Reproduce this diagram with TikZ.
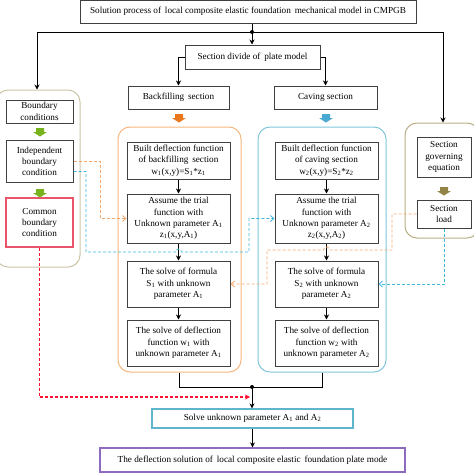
\documentclass[tikz,border=0pt]{standalone}
\usepackage{fontspec}
\setmainfont{Liberation Serif}
\usetikzlibrary{arrows.meta,calc}
\definecolor{boxgray}{HTML}{404040}
\definecolor{lgrpc}{HTML}{CBC4A6}
\definecolor{rgrpc}{HTML}{B9AE86}
\definecolor{ogrpc}{HTML}{F6B77E}
\definecolor{bgrpc}{HTML}{80C6DA}
\definecolor{cbcc}{HTML}{E9546B}
\definecolor{solvec}{HTML}{5EB5CC}
\definecolor{finalc}{HTML}{8E6BBF}
\definecolor{odashc}{HTML}{F4A86E}
\definecolor{bdashc}{HTML}{3DB6DC}
\definecolor{rdashc}{HTML}{FF1030}
\definecolor{greenA}{HTML}{78B31E}
\definecolor{orangeA}{HTML}{E8771F}
\definecolor{blueA}{HTML}{48AAD0}
\definecolor{oliveA}{HTML}{938446}
\newcommand{\blockarr}[2]{\path[fill=#2] (#1) ++(-4,0) -- ++(8,0) -- ++(0,4) -- ++(3,0) -- ++(-7,4.5) -- ++(-7,-4.5) -- ++(3,0) -- cycle;}
\begin{document}
\begin{tikzpicture}[x=1pt,y=-1pt,
  box/.style={draw=boxgray, line width=1pt, fill=white, align=center, inner sep=0pt,
     font=\fontsize{9.2}{11.3}\selectfont},
  cbox/.style={box, line width=1.2pt},
  grp/.style={draw=#1, line width=1pt, rounded corners=12pt, inner sep=0pt},
  conn/.style={draw=black, line width=0.8pt},
  arr/.style={conn, -{Stealth[length=5pt,width=5pt]}},
  odash/.style={draw=odashc, line width=0.8pt, dash pattern=on 3pt off 2pt},
  bdash/.style={draw=bdashc, line width=0.8pt, dash pattern=on 3pt off 2pt},
  rdash/.style={draw=rdashc, line width=1.1pt, dash pattern=on 3pt off 2pt},
  barb/.style={-{Straight Barb[length=3.5pt,width=6pt]}},
]
\useasboundingbox (0,0) rectangle (474,474);

% groups
\node[grp=lgrpc, minimum width=84pt, minimum height=177pt] (lgrp) at (38,178.5) {};
\node[grp=rgrpc, minimum width=74pt, minimum height=115pt] (rgrp) at (442,180.5) {};
\node[grp=ogrpc, minimum width=123pt, minimum height=245pt] (ogrp) at (179.5,249.5) {};
\node[grp=bgrpc, minimum width=128pt, minimum height=245pt] (bgrp) at (322,249.5) {};

% top
\node[box, minimum width=336pt, minimum height=23pt] (top) at (248,11.5) {Solution process of\, local composite elastic foundation\, mechanical model in CMPGB};
\node[box, minimum width=135pt, minimum height=24pt] (divide) at (252.5,57) {Section divide of\, plate model};
\node[box, minimum width=101pt, minimum height=23pt] (back) at (178.5,97.5) {Backfilling\, section};
\node[box, minimum width=103pt, minimum height=23pt] (cave) at (325.5,97.5) {Caving section};

% left group
\node[box, minimum width=67pt, minimum height=23pt] (bc) at (39.5,111.5) {Boundary\\conditions};
\node[box, minimum width=67pt, minimum height=42pt] (ibc) at (39.5,161.5) {Independent\\boundary\\condition};
\node[cbox, draw=cbcc, minimum width=67pt, minimum height=49pt] (cbc) at (39.5,222.5) {Common\\boundary\\condition};

% right group
\node[box, minimum width=54pt, minimum height=40pt] (sge) at (444,157) {Section\\governing\\equation};
\node[box, minimum width=54pt, minimum height=28pt] (sl) at (444,214) {Section\\load};

% left column
\node[box, minimum width=103pt, minimum height=37pt] (L1) at (178.5,160.5) {Built deflection function\\of backfilling\, section\\w\textsubscript{1}(x,y)=S\textsubscript{1}*z\textsubscript{1}};
\node[box, minimum width=103pt, minimum height=49pt] (L2) at (178.5,218.5) {Assume the trial\\function with\\Unknown parameter A\textsubscript{1}\\z\textsubscript{1}(x,y,A\textsubscript{1})};
\node[box, minimum width=103pt, minimum height=46pt] (L3) at (178.5,284) {The solve of formula\\S\textsubscript{1} with unknown\\parameter A\textsubscript{1}};
\node[box, minimum width=103pt, minimum height=46pt] (L4) at (178.5,343) {The solve of deflection\\function w\textsubscript{1} with\\unknown parameter A\textsubscript{1}};

% right column
\node[box, minimum width=103pt, minimum height=37pt] (R1) at (326.5,160.5) {Built deflection function\\of caving section\\w\textsubscript{2}(x,y)=S\textsubscript{2}*z\textsubscript{2}};
\node[box, minimum width=103pt, minimum height=49pt] (R2) at (326.5,218.5) {Assume the trial\\function with\\Unknown parameter A\textsubscript{2}\\z\textsubscript{2}(x,y,A\textsubscript{2})};
\node[box, minimum width=103pt, minimum height=46pt] (R3) at (326.5,284) {The solve of formula\\S\textsubscript{2} with unknown\\parameter A\textsubscript{2}};
\node[box, minimum width=103pt, minimum height=46pt] (R4) at (326.5,343) {The solve of deflection\\function w\textsubscript{2} with\\unknown parameter A\textsubscript{2}};

% bottom
\node[cbox, draw=solvec, minimum width=201pt, minimum height=19pt] (solve) at (252.5,418.5) {Solve unknown parameter A\textsubscript{1} and A\textsubscript{2}};
\node[cbox, draw=finalc, minimum width=305pt, minimum height=24pt] (final) at (252.5,460) {The deflection solution of\, local composite elastic\, foundation plate mode};
\draw[finalc, line width=2pt] (final.south west) ++(0,-1) -- ($(final.south east)+(0,-1)$);

% top tree
\coordinate (dtop) at (252,32);
\coordinate (jl) at (37,32);
\coordinate (jr) at (443,32);
\draw[conn] (top.south -| dtop) -- (dtop);
\draw[conn] (jl) -- (jr);
\fill (dtop) circle (2pt);
\draw[arr] (dtop) -- (divide.north -| dtop);
\draw[arr] (jl) -- (jl |- lgrp.north);
\draw[arr] (jr) -- (jr |- rgrp.north);
\draw[arr] (divide.west) -| (back.north);
\draw[arr] (divide.east) -| (cave.north);

% block arrows
\blockarr{179,114}{orangeA}
\blockarr{326,114}{blueA}
\blockarr{40,128}{greenA}
\blockarr{40,189}{greenA}
\blockarr{444,187}{oliveA}

% column arrows
\draw[arr] (L1) -- (L2);
\draw[arr] (L2) -- (L3);
\draw[arr] (L3) -- (L4);
\draw[arr] (R1) -- (R2);
\draw[arr] (R2) -- (R3);
\draw[arr] (R3) -- (R4);

% bottom merge
\coordinate (dbot) at (252,387);
\draw[conn] (ogrp.south) |- (dbot);
\draw[conn] (bgrp.south) |- (dbot);
\fill (dbot) circle (2pt);
\draw[arr] (dbot) -- (solve.north -| dbot);
\draw[arr] (solve) -- (final);

% red dashed
\coordinate (rend) at (250,397);
\draw[rdash, -{Stealth[length=5pt,width=5pt]}] (cbc.south) |- (rend);

% dashed from independent boundary condition
\draw[odash, barb] (ibc.east) -- (100,161.5) |- (L2.west);
\draw[bdash, barb] ($(ibc.east)+(0,10)$) -- (86,171.5) -- (86,252) -- (175.5,252)
   arc (180:360:3) -- (249,252) |- (R2.west);

% dashed from section load
\draw[odash, barb] (sl.west) -- (392,214) -- (392,250) -- (329.5,250) arc (360:180:3)
   -- (267,250) |- (L3.east);
\draw[bdash, barb] (sl.south) |- (R3.east);
\end{tikzpicture}
\end{document}
